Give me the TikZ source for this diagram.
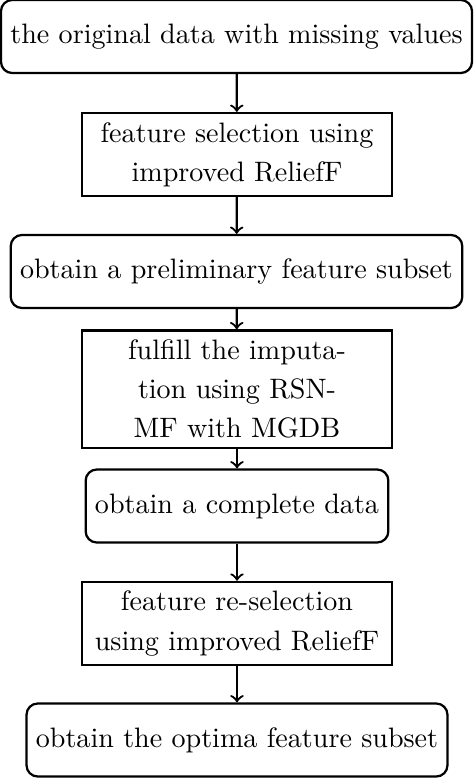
\documentclass[tikz,border=0pt]{standalone}
\usepackage{tikz}
\usetikzlibrary{positioning}

\tikzset{
  roundbox/.style={draw, thick, rounded corners, minimum height=26pt},
  stepbox/.style={draw, thick, text width=103.5pt, align=center,
    font={\fontsize{10pt}{13.9pt}\selectfont}},
  flow/.style={thick, ->}
}

\begin{document}
\begin{tikzpicture}[x=0.356pt,y=-0.356pt]

\useasboundingbox (0,0) rectangle (474,778);

% Boxes, top to bottom
\node[roundbox] (orig) at (236.5,36.5) {the original data with missing values};
\node[stepbox] (sel) at (237,154.5) {feature selection using\\improved ReliefF};
\node[roundbox] (prelim) at (236.5,271.5) {obtain a preliminary feature subset};
\node[stepbox] (imput) at (237,389) {fulfill the imputa-\\tion using RSN-\\MF with MGDB};
\node[roundbox] (complete) at (237,506) {obtain a complete data};
\node[stepbox] (resel) at (237,623.5) {feature re-selection\\using improved ReliefF};
\node[roundbox] (optima) at (237,740) {obtain the optima feature subset};

% Arrows
\draw[flow] (orig) -- (sel);
\draw[flow] (sel) -- (prelim);
\draw[flow] (prelim) -- (imput);
\draw[flow] (imput) -- (complete);
\draw[flow] (complete) -- (resel);
\draw[flow] (resel) -- (optima);

\end{tikzpicture}
\end{document}
